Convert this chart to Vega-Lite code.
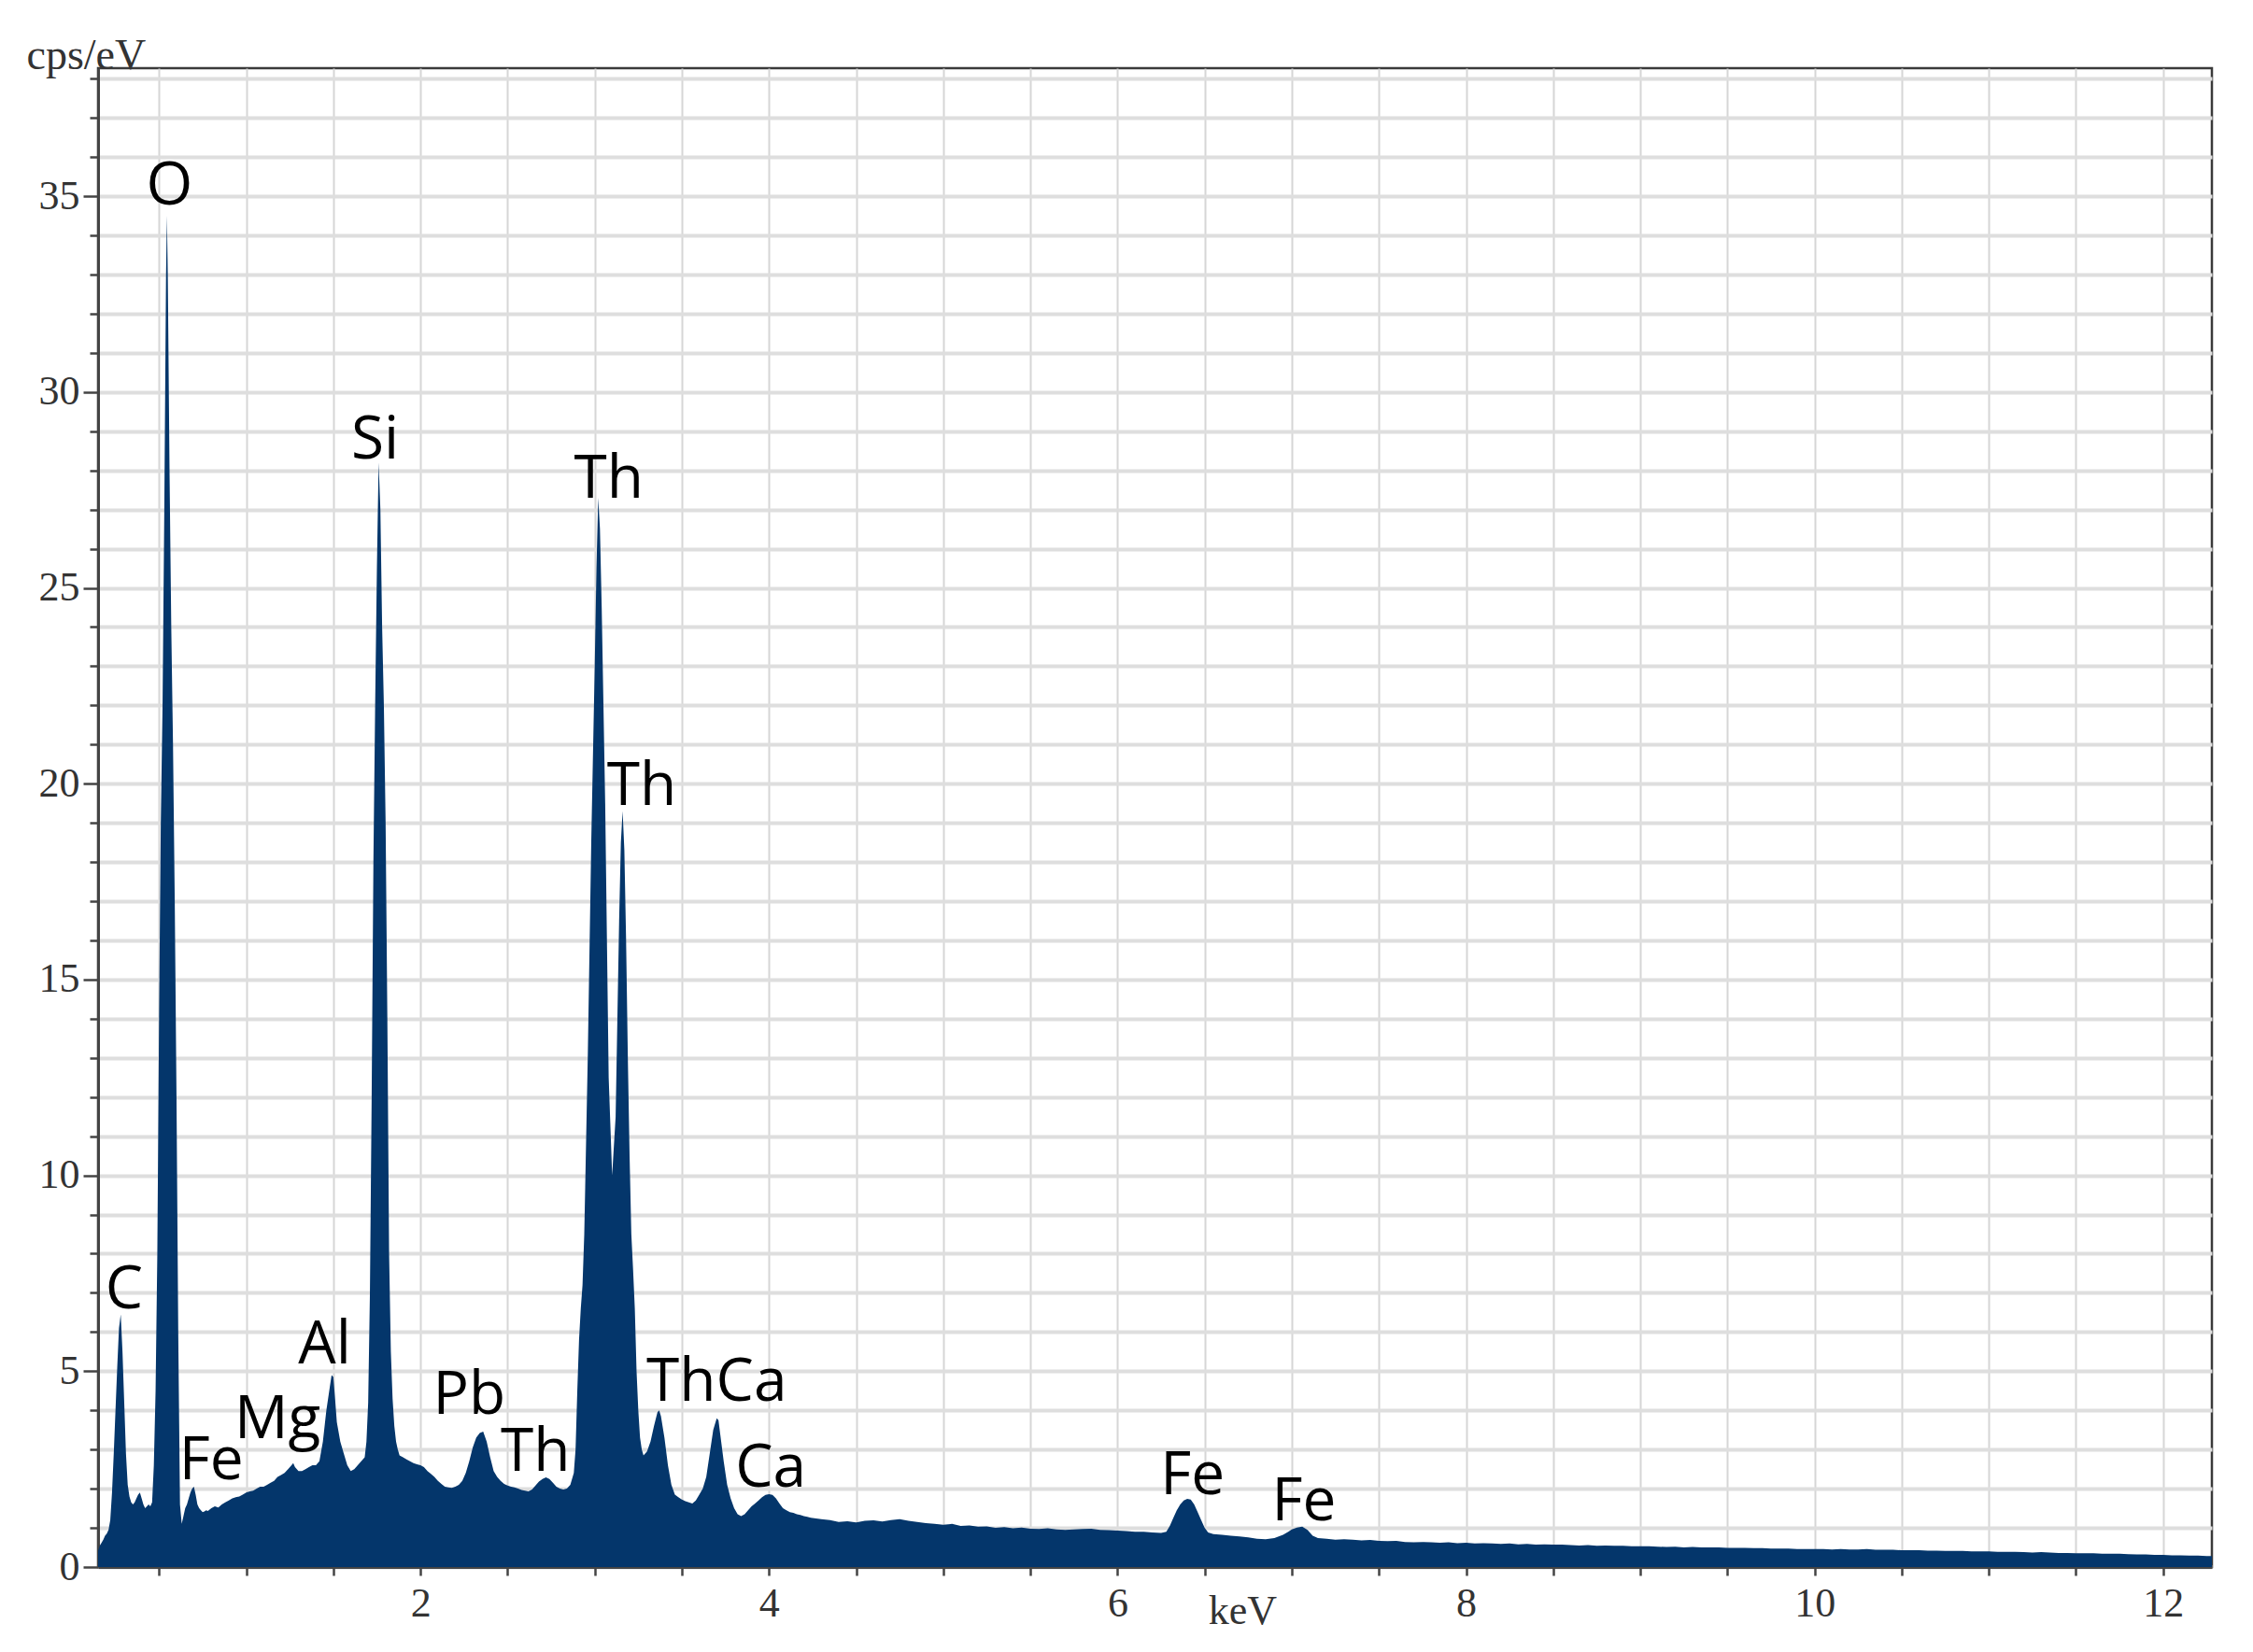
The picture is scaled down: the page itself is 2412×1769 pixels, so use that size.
{
  "$schema": "https://vega.github.io/schema/vega-lite/v6.json",
  "width": 2263,
  "height": 1605,
  "autosize": {"type": "none"},
  "padding": {"left": 105, "top": 73, "right": 44, "bottom": 91},
  "background": "white",
  "config": {
    "view": {"stroke": "#3a3a3a", "strokeWidth": 2.5},
    "axis": {
      "labelFont": "Liberation Serif",
      "titleFont": "Liberation Serif",
      "labelColor": "#333333",
      "titleColor": "#333333",
      "domainColor": "#444444",
      "tickColor": "#444444",
      "domainWidth": 3,
      "tickWidth": 2.5
    }
  },
  "layer": [
    {
      "data": {
        "values": [
          {"e": 0.15, "c": 0.42}, {"e": 0.16, "c": 0.55}, {"e": 0.17, "c": 0.62}, {"e": 0.18, "c": 0.7},
          {"e": 0.19, "c": 0.8}, {"e": 0.2, "c": 0.85}, {"e": 0.21, "c": 0.95}, {"e": 0.22, "c": 1.2},
          {"e": 0.23, "c": 1.9}, {"e": 0.24, "c": 2.9}, {"e": 0.25, "c": 4.0}, {"e": 0.26, "c": 5.1},
          {"e": 0.27, "c": 6.1}, {"e": 0.28, "c": 6.45}, {"e": 0.29, "c": 5.5}, {"e": 0.3, "c": 4.2},
          {"e": 0.31, "c": 2.9}, {"e": 0.32, "c": 2.1}, {"e": 0.33, "c": 1.8}, {"e": 0.34, "c": 1.65},
          {"e": 0.35, "c": 1.6}, {"e": 0.36, "c": 1.65}, {"e": 0.37, "c": 1.75}, {"e": 0.38, "c": 1.85},
          {"e": 0.39, "c": 1.9}, {"e": 0.4, "c": 1.75}, {"e": 0.41, "c": 1.6}, {"e": 0.42, "c": 1.5},
          {"e": 0.43, "c": 1.55}, {"e": 0.44, "c": 1.6}, {"e": 0.45, "c": 1.55}, {"e": 0.46, "c": 1.65},
          {"e": 0.47, "c": 2.6}, {"e": 0.48, "c": 4.5}, {"e": 0.49, "c": 8.0}, {"e": 0.5, "c": 14.0},
          {"e": 0.51, "c": 19.0}, {"e": 0.52, "c": 22.0}, {"e": 0.53, "c": 27.0}, {"e": 0.54, "c": 33.0},
          {"e": 0.545, "c": 34.5}, {"e": 0.55, "c": 33.0}, {"e": 0.56, "c": 28.0}, {"e": 0.57, "c": 24.0},
          {"e": 0.58, "c": 21.0}, {"e": 0.59, "c": 17.0}, {"e": 0.6, "c": 12.0}, {"e": 0.61, "c": 6.0},
          {"e": 0.62, "c": 1.6}, {"e": 0.63, "c": 1.1}, {"e": 0.64, "c": 1.3}, {"e": 0.65, "c": 1.5},
          {"e": 0.66, "c": 1.6}, {"e": 0.67, "c": 1.75}, {"e": 0.68, "c": 1.9}, {"e": 0.69, "c": 2.0},
          {"e": 0.7, "c": 2.05}, {"e": 0.71, "c": 1.85}, {"e": 0.72, "c": 1.6}, {"e": 0.73, "c": 1.5},
          {"e": 0.74, "c": 1.45}, {"e": 0.75, "c": 1.4}, {"e": 0.76, "c": 1.42}, {"e": 0.77, "c": 1.45},
          {"e": 0.78, "c": 1.43}, {"e": 0.8, "c": 1.5}, {"e": 0.82, "c": 1.55}, {"e": 0.84, "c": 1.52},
          {"e": 0.86, "c": 1.6}, {"e": 0.88, "c": 1.65}, {"e": 0.9, "c": 1.7}, {"e": 0.92, "c": 1.75},
          {"e": 0.94, "c": 1.78}, {"e": 0.96, "c": 1.8}, {"e": 0.98, "c": 1.85}, {"e": 1.0, "c": 1.9},
          {"e": 1.02, "c": 1.93}, {"e": 1.04, "c": 1.95}, {"e": 1.06, "c": 2.0}, {"e": 1.08, "c": 2.05},
          {"e": 1.1, "c": 2.05}, {"e": 1.12, "c": 2.1}, {"e": 1.14, "c": 2.15}, {"e": 1.16, "c": 2.2},
          {"e": 1.18, "c": 2.3}, {"e": 1.2, "c": 2.35}, {"e": 1.22, "c": 2.4}, {"e": 1.24, "c": 2.5},
          {"e": 1.26, "c": 2.6}, {"e": 1.27, "c": 2.65}, {"e": 1.28, "c": 2.55}, {"e": 1.3, "c": 2.45},
          {"e": 1.32, "c": 2.45}, {"e": 1.34, "c": 2.5}, {"e": 1.36, "c": 2.55}, {"e": 1.38, "c": 2.6},
          {"e": 1.4, "c": 2.6}, {"e": 1.42, "c": 2.7}, {"e": 1.44, "c": 3.2}, {"e": 1.46, "c": 4.0},
          {"e": 1.48, "c": 4.6}, {"e": 1.49, "c": 4.9}, {"e": 1.5, "c": 4.85}, {"e": 1.51, "c": 4.3},
          {"e": 1.52, "c": 3.7}, {"e": 1.54, "c": 3.2}, {"e": 1.56, "c": 2.9}, {"e": 1.58, "c": 2.6},
          {"e": 1.6, "c": 2.45}, {"e": 1.62, "c": 2.5}, {"e": 1.64, "c": 2.6}, {"e": 1.66, "c": 2.7},
          {"e": 1.68, "c": 2.8}, {"e": 1.69, "c": 3.2}, {"e": 1.7, "c": 4.2}, {"e": 1.71, "c": 7.0},
          {"e": 1.72, "c": 12.0}, {"e": 1.73, "c": 18.0}, {"e": 1.74, "c": 22.0}, {"e": 1.75, "c": 25.5},
          {"e": 1.76, "c": 28.2}, {"e": 1.77, "c": 27.0}, {"e": 1.78, "c": 24.0}, {"e": 1.79, "c": 22.0},
          {"e": 1.8, "c": 19.0}, {"e": 1.81, "c": 14.0}, {"e": 1.82, "c": 8.0}, {"e": 1.83, "c": 5.5},
          {"e": 1.84, "c": 4.3}, {"e": 1.85, "c": 3.6}, {"e": 1.86, "c": 3.2}, {"e": 1.87, "c": 3.0},
          {"e": 1.88, "c": 2.85}, {"e": 1.9, "c": 2.8}, {"e": 1.92, "c": 2.75}, {"e": 1.94, "c": 2.7},
          {"e": 1.96, "c": 2.65}, {"e": 1.98, "c": 2.62}, {"e": 2.0, "c": 2.6}, {"e": 2.02, "c": 2.55},
          {"e": 2.04, "c": 2.45}, {"e": 2.06, "c": 2.38}, {"e": 2.08, "c": 2.3}, {"e": 2.1, "c": 2.2},
          {"e": 2.12, "c": 2.12}, {"e": 2.14, "c": 2.05}, {"e": 2.16, "c": 2.03}, {"e": 2.18, "c": 2.02},
          {"e": 2.2, "c": 2.05}, {"e": 2.22, "c": 2.1}, {"e": 2.24, "c": 2.2}, {"e": 2.26, "c": 2.4},
          {"e": 2.28, "c": 2.7}, {"e": 2.3, "c": 3.05}, {"e": 2.32, "c": 3.3}, {"e": 2.34, "c": 3.42},
          {"e": 2.36, "c": 3.46}, {"e": 2.38, "c": 3.2}, {"e": 2.4, "c": 2.8}, {"e": 2.42, "c": 2.45},
          {"e": 2.44, "c": 2.3}, {"e": 2.46, "c": 2.2}, {"e": 2.48, "c": 2.12}, {"e": 2.5, "c": 2.08},
          {"e": 2.52, "c": 2.05}, {"e": 2.54, "c": 2.03}, {"e": 2.56, "c": 2.0}, {"e": 2.58, "c": 1.97},
          {"e": 2.6, "c": 1.95}, {"e": 2.62, "c": 1.93}, {"e": 2.64, "c": 1.98}, {"e": 2.66, "c": 2.08},
          {"e": 2.68, "c": 2.18}, {"e": 2.7, "c": 2.25}, {"e": 2.72, "c": 2.29}, {"e": 2.74, "c": 2.25},
          {"e": 2.76, "c": 2.15}, {"e": 2.78, "c": 2.05}, {"e": 2.8, "c": 2.0}, {"e": 2.82, "c": 1.98},
          {"e": 2.84, "c": 2.0}, {"e": 2.86, "c": 2.1}, {"e": 2.88, "c": 2.4}, {"e": 2.89, "c": 3.0},
          {"e": 2.9, "c": 4.5}, {"e": 2.91, "c": 5.8}, {"e": 2.92, "c": 6.6}, {"e": 2.93, "c": 7.2},
          {"e": 2.94, "c": 8.5}, {"e": 2.96, "c": 13.0}, {"e": 2.98, "c": 18.5}, {"e": 3.0, "c": 23.0},
          {"e": 3.01, "c": 25.5}, {"e": 3.02, "c": 27.3}, {"e": 3.03, "c": 26.5}, {"e": 3.04, "c": 24.5},
          {"e": 3.05, "c": 22.0}, {"e": 3.06, "c": 19.5}, {"e": 3.07, "c": 16.0}, {"e": 3.08, "c": 12.5},
          {"e": 3.1, "c": 10.0}, {"e": 3.12, "c": 11.5}, {"e": 3.13, "c": 14.0}, {"e": 3.14, "c": 16.5},
          {"e": 3.15, "c": 18.5}, {"e": 3.16, "c": 19.3}, {"e": 3.17, "c": 18.3}, {"e": 3.18, "c": 16.0},
          {"e": 3.19, "c": 13.0}, {"e": 3.2, "c": 10.5}, {"e": 3.21, "c": 8.5}, {"e": 3.22, "c": 7.6},
          {"e": 3.23, "c": 6.6}, {"e": 3.24, "c": 5.0}, {"e": 3.25, "c": 4.0}, {"e": 3.26, "c": 3.3},
          {"e": 3.27, "c": 3.0}, {"e": 3.28, "c": 2.85}, {"e": 3.3, "c": 2.95}, {"e": 3.32, "c": 3.2},
          {"e": 3.34, "c": 3.6}, {"e": 3.36, "c": 3.95}, {"e": 3.37, "c": 4.0}, {"e": 3.38, "c": 3.85},
          {"e": 3.4, "c": 3.3}, {"e": 3.42, "c": 2.6}, {"e": 3.44, "c": 2.1}, {"e": 3.46, "c": 1.85},
          {"e": 3.48, "c": 1.78}, {"e": 3.5, "c": 1.72}, {"e": 3.52, "c": 1.68}, {"e": 3.54, "c": 1.65},
          {"e": 3.56, "c": 1.62}, {"e": 3.58, "c": 1.7}, {"e": 3.6, "c": 1.85}, {"e": 3.62, "c": 2.0},
          {"e": 3.64, "c": 2.3}, {"e": 3.66, "c": 2.9}, {"e": 3.68, "c": 3.5}, {"e": 3.7, "c": 3.8},
          {"e": 3.71, "c": 3.75}, {"e": 3.72, "c": 3.4}, {"e": 3.74, "c": 2.7}, {"e": 3.76, "c": 2.1},
          {"e": 3.78, "c": 1.75}, {"e": 3.8, "c": 1.5}, {"e": 3.82, "c": 1.35}, {"e": 3.84, "c": 1.3},
          {"e": 3.86, "c": 1.35}, {"e": 3.88, "c": 1.45}, {"e": 3.9, "c": 1.55}, {"e": 3.92, "c": 1.62},
          {"e": 3.94, "c": 1.7}, {"e": 3.96, "c": 1.78}, {"e": 3.98, "c": 1.84}, {"e": 4.0, "c": 1.86},
          {"e": 4.02, "c": 1.84}, {"e": 4.04, "c": 1.75}, {"e": 4.06, "c": 1.62}, {"e": 4.08, "c": 1.5},
          {"e": 4.1, "c": 1.45}, {"e": 4.12, "c": 1.4}, {"e": 4.14, "c": 1.38}, {"e": 4.16, "c": 1.35},
          {"e": 4.18, "c": 1.33}, {"e": 4.2, "c": 1.3}, {"e": 4.22, "c": 1.28}, {"e": 4.24, "c": 1.26},
          {"e": 4.3, "c": 1.22}, {"e": 4.35, "c": 1.2}, {"e": 4.4, "c": 1.15}, {"e": 4.45, "c": 1.17},
          {"e": 4.5, "c": 1.14}, {"e": 4.55, "c": 1.18}, {"e": 4.6, "c": 1.19}, {"e": 4.65, "c": 1.16},
          {"e": 4.7, "c": 1.2}, {"e": 4.75, "c": 1.22}, {"e": 4.8, "c": 1.18}, {"e": 4.85, "c": 1.15},
          {"e": 4.9, "c": 1.12}, {"e": 4.95, "c": 1.1}, {"e": 5.0, "c": 1.08}, {"e": 5.05, "c": 1.1},
          {"e": 5.1, "c": 1.05}, {"e": 5.15, "c": 1.06}, {"e": 5.2, "c": 1.03}, {"e": 5.25, "c": 1.04},
          {"e": 5.3, "c": 1.0}, {"e": 5.35, "c": 1.02}, {"e": 5.4, "c": 0.99}, {"e": 5.45, "c": 1.01},
          {"e": 5.5, "c": 0.98}, {"e": 5.55, "c": 0.97}, {"e": 5.6, "c": 0.99}, {"e": 5.65, "c": 0.96},
          {"e": 5.7, "c": 0.95}, {"e": 5.75, "c": 0.96}, {"e": 5.8, "c": 0.97}, {"e": 5.85, "c": 0.98},
          {"e": 5.9, "c": 0.95}, {"e": 5.95, "c": 0.94}, {"e": 6.0, "c": 0.93}, {"e": 6.05, "c": 0.92},
          {"e": 6.1, "c": 0.9}, {"e": 6.15, "c": 0.9}, {"e": 6.2, "c": 0.88}, {"e": 6.25, "c": 0.87},
          {"e": 6.28, "c": 0.9}, {"e": 6.3, "c": 1.05}, {"e": 6.32, "c": 1.25}, {"e": 6.34, "c": 1.45},
          {"e": 6.36, "c": 1.6}, {"e": 6.38, "c": 1.7}, {"e": 6.4, "c": 1.74}, {"e": 6.42, "c": 1.72},
          {"e": 6.44, "c": 1.6}, {"e": 6.46, "c": 1.4}, {"e": 6.48, "c": 1.2}, {"e": 6.5, "c": 1.0},
          {"e": 6.52, "c": 0.88}, {"e": 6.55, "c": 0.84}, {"e": 6.6, "c": 0.82}, {"e": 6.65, "c": 0.8},
          {"e": 6.7, "c": 0.78}, {"e": 6.75, "c": 0.76}, {"e": 6.8, "c": 0.72}, {"e": 6.85, "c": 0.71},
          {"e": 6.9, "c": 0.74}, {"e": 6.95, "c": 0.82}, {"e": 6.98, "c": 0.9}, {"e": 7.0, "c": 0.96},
          {"e": 7.03, "c": 1.01}, {"e": 7.06, "c": 1.03}, {"e": 7.09, "c": 0.95}, {"e": 7.12, "c": 0.8},
          {"e": 7.15, "c": 0.74}, {"e": 7.2, "c": 0.72}, {"e": 7.25, "c": 0.7}, {"e": 7.3, "c": 0.71},
          {"e": 7.35, "c": 0.7}, {"e": 7.4, "c": 0.68}, {"e": 7.45, "c": 0.69}, {"e": 7.5, "c": 0.67},
          {"e": 7.55, "c": 0.66}, {"e": 7.6, "c": 0.67}, {"e": 7.65, "c": 0.64}, {"e": 7.7, "c": 0.63},
          {"e": 7.75, "c": 0.64}, {"e": 7.8, "c": 0.63}, {"e": 7.85, "c": 0.62}, {"e": 7.9, "c": 0.63},
          {"e": 7.95, "c": 0.61}, {"e": 8.0, "c": 0.62}, {"e": 8.05, "c": 0.6}, {"e": 8.1, "c": 0.61},
          {"e": 8.15, "c": 0.6}, {"e": 8.2, "c": 0.59}, {"e": 8.25, "c": 0.6}, {"e": 8.3, "c": 0.58},
          {"e": 8.35, "c": 0.59}, {"e": 8.4, "c": 0.57}, {"e": 8.45, "c": 0.58}, {"e": 8.5, "c": 0.57},
          {"e": 8.55, "c": 0.57}, {"e": 8.6, "c": 0.56}, {"e": 8.65, "c": 0.55}, {"e": 8.7, "c": 0.56},
          {"e": 8.75, "c": 0.54}, {"e": 8.8, "c": 0.55}, {"e": 8.85, "c": 0.54}, {"e": 8.9, "c": 0.54},
          {"e": 8.95, "c": 0.53}, {"e": 9.0, "c": 0.53}, {"e": 9.05, "c": 0.53}, {"e": 9.1, "c": 0.52},
          {"e": 9.15, "c": 0.51}, {"e": 9.2, "c": 0.52}, {"e": 9.25, "c": 0.5}, {"e": 9.3, "c": 0.51},
          {"e": 9.35, "c": 0.5}, {"e": 9.4, "c": 0.5}, {"e": 9.45, "c": 0.5}, {"e": 9.5, "c": 0.49},
          {"e": 9.55, "c": 0.49}, {"e": 9.6, "c": 0.49}, {"e": 9.65, "c": 0.48}, {"e": 9.7, "c": 0.48},
          {"e": 9.75, "c": 0.47}, {"e": 9.8, "c": 0.47}, {"e": 9.85, "c": 0.47}, {"e": 9.9, "c": 0.46},
          {"e": 9.95, "c": 0.46}, {"e": 10.0, "c": 0.46}, {"e": 10.05, "c": 0.46}, {"e": 10.1, "c": 0.45},
          {"e": 10.15, "c": 0.46}, {"e": 10.2, "c": 0.45}, {"e": 10.25, "c": 0.45}, {"e": 10.3, "c": 0.46},
          {"e": 10.35, "c": 0.44}, {"e": 10.4, "c": 0.44}, {"e": 10.45, "c": 0.44}, {"e": 10.5, "c": 0.43},
          {"e": 10.55, "c": 0.43}, {"e": 10.6, "c": 0.43}, {"e": 10.65, "c": 0.42}, {"e": 10.7, "c": 0.42},
          {"e": 10.75, "c": 0.41}, {"e": 10.8, "c": 0.41}, {"e": 10.85, "c": 0.41}, {"e": 10.9, "c": 0.4},
          {"e": 10.95, "c": 0.4}, {"e": 11.0, "c": 0.4}, {"e": 11.05, "c": 0.39}, {"e": 11.1, "c": 0.39},
          {"e": 11.15, "c": 0.39}, {"e": 11.2, "c": 0.38}, {"e": 11.25, "c": 0.37}, {"e": 11.3, "c": 0.38},
          {"e": 11.35, "c": 0.37}, {"e": 11.4, "c": 0.36}, {"e": 11.45, "c": 0.36}, {"e": 11.5, "c": 0.35},
          {"e": 11.55, "c": 0.35}, {"e": 11.6, "c": 0.35}, {"e": 11.65, "c": 0.34}, {"e": 11.7, "c": 0.34},
          {"e": 11.75, "c": 0.34}, {"e": 11.8, "c": 0.33}, {"e": 11.85, "c": 0.32}, {"e": 11.9, "c": 0.32},
          {"e": 11.95, "c": 0.31}, {"e": 12.0, "c": 0.31}, {"e": 12.05, "c": 0.3}, {"e": 12.1, "c": 0.3},
          {"e": 12.15, "c": 0.29}, {"e": 12.2, "c": 0.29}, {"e": 12.25, "c": 0.28}, {"e": 12.28, "c": 0.28}
        ]
      },
      "mark": {"type": "area", "color": "#04366b", "interpolate": "linear", "clip": true},
      "encoding": {
        "x": {
          "field": "e",
          "type": "quantitative",
          "scale": {"domain": [0.15, 12.28], "nice": false, "zero": false},
          "axis": {
            "values": [0.5, 1, 1.5, 2, 2.5, 3, 3.5, 4, 4.5, 5, 5.5, 6, 6.5, 7, 7.5, 8, 8.5, 9, 9.5, 10, 10.5, 11, 11.5, 12],
            "labelExpr": "datum.value % 2 === 0 ? datum.label : ''",
            "format": "~g",
            "labelFontSize": 44,
            "labelPadding": 8,
            "tickSize": 9,
            "grid": true,
            "gridColor": "#d6d6d6",
            "gridWidth": 2,
            "title": "keV",
            "titleFontSize": 44,
            "titleFontWeight": "normal",
            "titleX": 1225,
            "titleY": 60,
            "titleAlign": "center",
            "titleBaseline": "alphabetic"
          }
        },
        "y": {
          "field": "c",
          "type": "quantitative",
          "scale": {"domain": [0, 38.27], "nice": false},
          "axis": {
            "values": [0, 1, 2, 3, 4, 5, 6, 7, 8, 9, 10, 11, 12, 13, 14, 15, 16, 17, 18, 19, 20, 21, 22, 23, 24, 25, 26, 27, 28, 29, 30, 31, 32, 33, 34, 35, 36, 37, 38],
            "labelExpr": "datum.value % 5 === 0 ? datum.label : ''",
            "labelFontSize": 44,
            "labelPadding": 4,
            "tickSize": {"condition": {"test": "datum.value % 5 === 0", "value": 16}, "value": 9},
            "grid": true,
            "gridColor": "#dedede",
            "gridWidth": 4,
            "title": "cps/eV",
            "titleFontSize": 46,
            "titleFontWeight": "normal",
            "titleAngle": 0,
            "titleX": -77,
            "titleY": 0,
            "titleAlign": "left",
            "titleBaseline": "alphabetic"
          }
        }
      }
    },
    {
      "data": {
        "values": [
          {"e": 0.3, "c": 6.6, "t": "C"},
          {"e": 0.56, "c": 34.8, "t": "O"},
          {"e": 0.8, "c": 2.25, "t": "Fe"},
          {"e": 1.18, "c": 3.3, "t": "Mg"},
          {"e": 1.45, "c": 5.2, "t": "Al"},
          {"e": 1.74, "c": 28.3, "t": "Si"},
          {"e": 2.28, "c": 3.9, "t": "Pb"},
          {"e": 2.66, "c": 2.45, "t": "Th"},
          {"e": 3.08, "c": 27.3, "t": "Th"},
          {"e": 3.27, "c": 19.45, "t": "Th"},
          {"e": 3.7, "c": 4.25, "t": "ThCa"},
          {"e": 4.01, "c": 2.05, "t": "Ca"},
          {"e": 6.43, "c": 1.86, "t": "Fe"},
          {"e": 7.07, "c": 1.2, "t": "Fe"}
        ]
      },
      "mark": {
        "type": "text",
        "font": "Open Sans",
        "fontSize": 64,
        "color": "#000000",
        "align": "center",
        "baseline": "alphabetic"
      },
      "encoding": {
        "x": {"field": "e", "type": "quantitative"},
        "y": {"field": "c", "type": "quantitative"},
        "text": {"field": "t", "type": "nominal"}
      }
    }
  ]
}
